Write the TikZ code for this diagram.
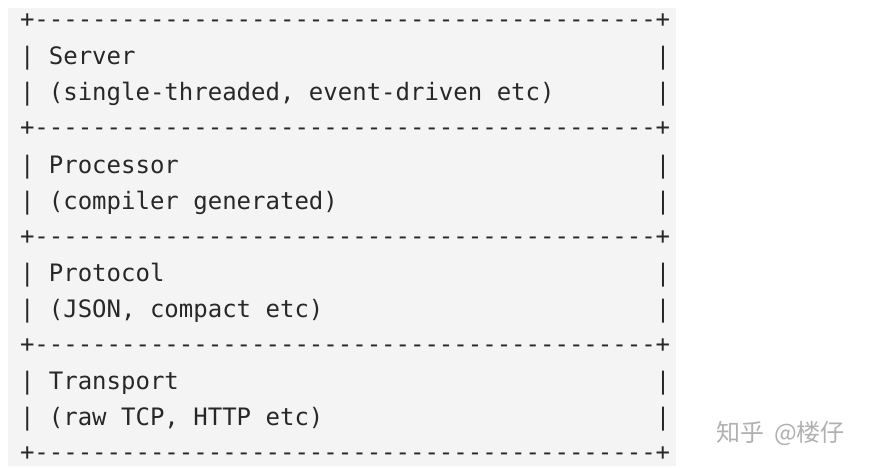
\documentclass[tikz,border=0pt]{standalone}
\usepackage{fontspec}
\setmonofont{DejaVu Sans Mono}
\newfontfamily\cjkfont{Noto Sans CJK SC}
\usepackage{xcolor}
\definecolor{boxgray}{RGB}{244,244,244}
\definecolor{textgray}{RGB}{40,40,40}
\definecolor{markgray}{RGB}{176,176,176}
\usepackage{tikz}
\usetikzlibrary{positioning}

% one row of the ascii box is 45 characters wide
\newlength{\rowwidth}
\setlength{\rowwidth}{650.2pt}
\newcommand{\sepline}{+-------------------------------------------+}
\newcommand{\boxrow}[1]{\makebox[\rowwidth][l]{| #1\hfill|}}

\begin{document}
\begin{tikzpicture}[x=1pt,y=-1pt]
	\useasboundingbox (0,0) rectangle (873,468);
	\fill[boxgray] (8,8) rectangle (676,466);

	\begin{scope}[every node/.style={anchor=base west, inner sep=0pt, text=textgray,
	              font=\ttfamily\fontsize{24}{36}\selectfont}]
	    \node (sepA) at (19.8,28) {\sepline};
	    \node (srvA) at (19.8,65) {\boxrow{Server}};
	    \node (srvB) at (19.8,101) {\boxrow{(single-threaded, event-driven etc)}};
	    \node (sepB) at (19.8,136) {\sepline};
	    \node (procA) at (19.8,173) {\boxrow{Processor}};
	    \node (procB) at (19.8,209) {\boxrow{(compiler generated)}};
	    \node (sepC) at (19.8,244) {\sepline};
	    \node (protoA) at (19.8,281) {\boxrow{Protocol}};
	    \node (protoB) at (19.8,317) {\boxrow{(JSON, compact etc)}};
	    \node (sepD) at (19.8,352) {\sepline};
	    \node (transA) at (19.8,389) {\boxrow{Transport}};
	    \node (transB) at (19.8,425) {\boxrow{(raw TCP, HTTP etc)}};
	    \node (sepE) at (19.8,460) {\sepline};
	\end{scope}

	\node[text=markgray, inner sep=0pt, font=\cjkfont\fontsize{24}{24}\selectfont] (mark) at (780.5,433) {知乎\hspace{10pt}@楼仔};
\end{tikzpicture}
\end{document}
